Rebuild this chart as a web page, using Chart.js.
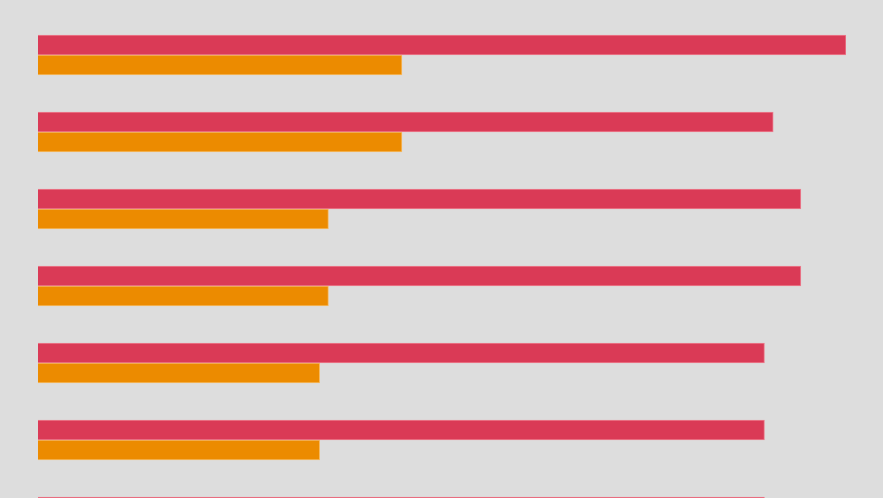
<!DOCTYPE html>
<html>
<head>
<meta charset="utf-8">
<script src="https://cdn.jsdelivr.net/npm/chart.js@4/dist/chart.umd.min.js"></script>
<style>
  html, body { margin: 0; padding: 0; background: #dddddd; overflow: hidden; }
  #wrap { width: 883px; height: 558px; position: relative; }
</style>
</head>
<body>
<div id="wrap"><canvas id="chart"></canvas></div>
<script>
// values (relative scale, orange row 1 = 50)
const categories = ['1', '2', '3', '4', '5', '6', '7'];
const redValues = [111, 101, 104.8, 104.8, 99.8, 99.8, 99.8];
const orangeValues = [50, 50, 39.9, 39.9, 38.7, 38.7, 38.7];

const ctx = document.getElementById('chart').getContext('2d');
new Chart(ctx, {
  type: 'bar',
  data: {
    labels: categories,
    datasets: [
      {
        label: 'Red',
        data: redValues,
        backgroundColor: '#da3a56',
        borderColor: '#ec7f8f',
        borderWidth: 1,
        barThickness: 20
      },
      {
        label: 'Orange',
        data: orangeValues,
        backgroundColor: '#ec8b00',
        borderColor: '#f5bb66',
        borderWidth: 1,
        barThickness: 20
      }
    ]
  },
  options: {
    indexAxis: 'y',
    responsive: true,
    maintainAspectRatio: false,
    animation: false,
    layout: { padding: { left: 38, right: 37, top: 16.5, bottom: 2.5 } },
    plugins: { legend: { display: false }, tooltip: { enabled: false } },
    scales: {
      x: { display: false, min: 0, max: 111 },
      y: { display: false }
    }
  }
});
</script>
</body>
</html>
